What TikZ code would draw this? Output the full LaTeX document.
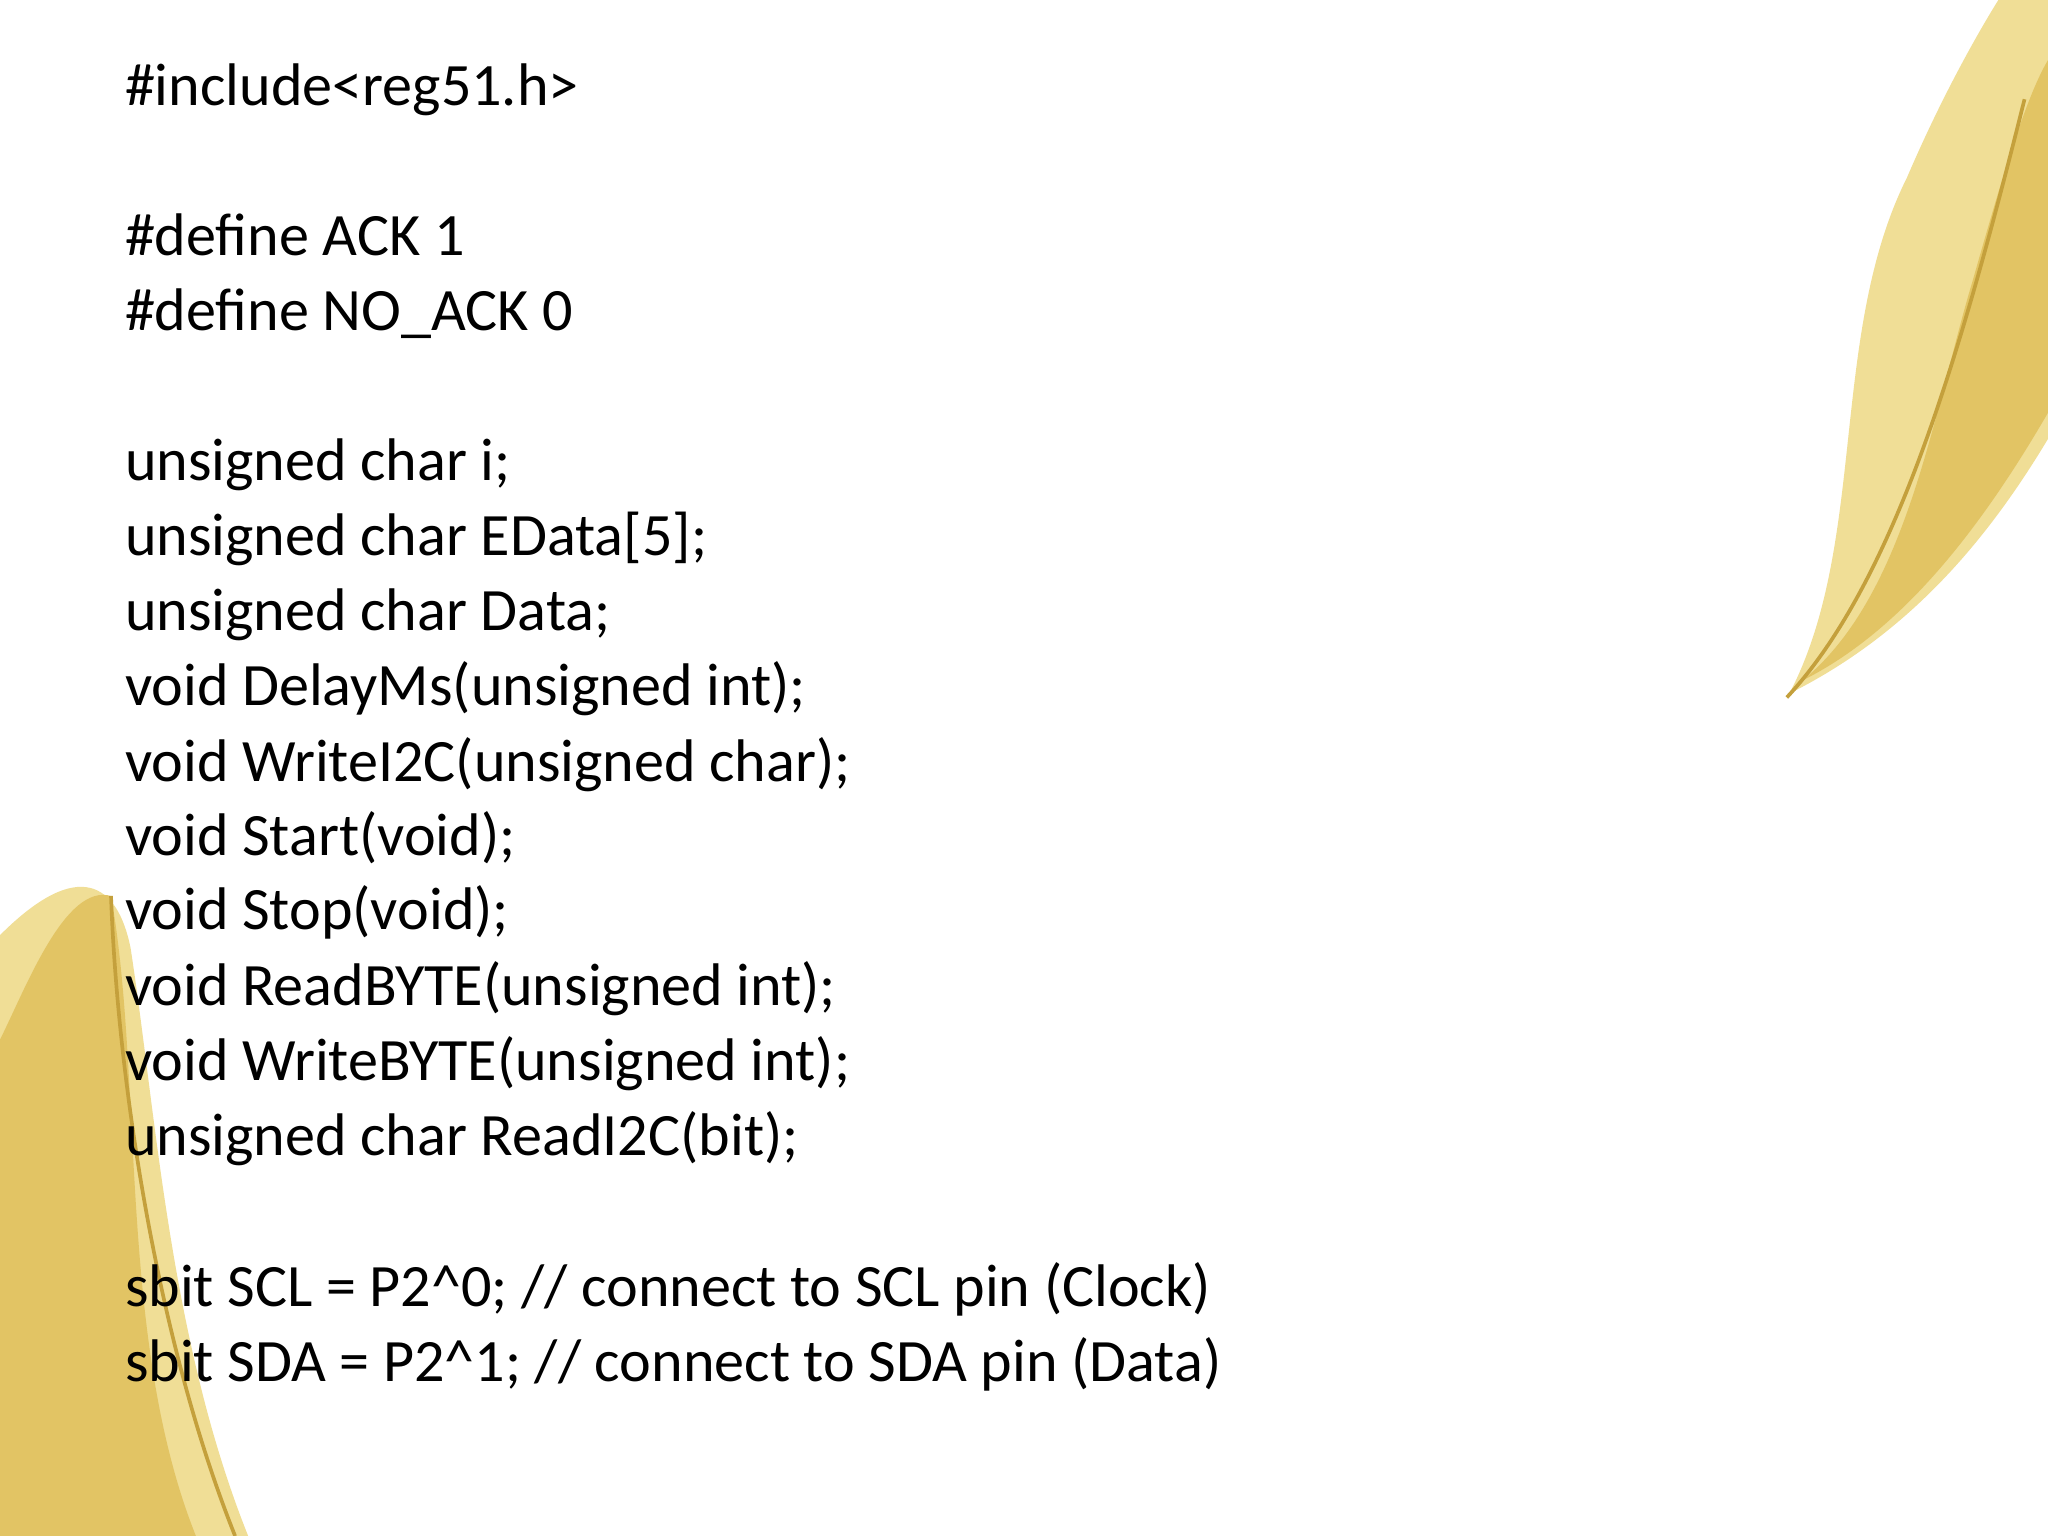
\documentclass[tikz,border=0pt]{standalone}
\usepackage{fontspec}
\setmainfont{Carlito}
\begin{document}
\begin{tikzpicture}[x=1cm,y=1cm,
  code/.style={anchor=base west,inner sep=0pt,font=\fontsize{13.1pt}{15pt}\selectfont},
  feather/.style={fill=gold,draw=none}]
\definecolor{gold}{RGB}{226,196,100}
\definecolor{goldlt}{RGB}{240,222,150}
\definecolor{golddk}{RGB}{196,160,60}
\useasboundingbox (0,0) rectangle (15.68,11.76);
\fill[white] (0,0) rectangle (15.68,11.76);
% right feather
\fill[goldlt] (13.70,6.45) .. controls (14.3,7.6) and (14.0,9.2) .. (14.6,10.4)
  .. controls (14.9,11.1) and (15.2,11.6) .. (15.3,11.76)
  -- (15.68,11.76) -- (15.68,8.4)
  .. controls (15.2,7.6) and (14.6,6.9) .. (13.70,6.45) -- cycle;
\fill[gold] (13.80,6.55) .. controls (14.6,7.2) and (14.8,8.6) .. (15.1,9.6)
  .. controls (15.3,10.3) and (15.5,11.0) .. (15.68,11.3) -- (15.68,8.6)
  .. controls (15.1,7.6) and (14.5,6.9) .. (13.80,6.55) -- cycle;
\draw[golddk,line width=0.8pt] (13.68,6.42) .. controls (14.5,7.3) and (15.0,9.0) .. (15.5,11.0);
% left feather
\fill[goldlt] (1.9,0) .. controls (1.3,1.5) and (1.2,3.2) .. (1.0,4.5)
  .. controls (0.9,5.0) and (0.6,5.2) .. (0,4.6) -- (0,0) -- cycle;
\fill[gold] (1.5,0) .. controls (0.9,1.5) and (1.1,3.5) .. (0.85,4.9)
  .. controls (0.5,5.0) and (0.2,4.2) .. (0,3.8) -- (0,0) -- cycle;
\draw[golddk,line width=0.8pt] (1.8,0) .. controls (1.2,1.5) and (0.9,3.5) .. (0.85,4.9);
% code
\foreach \t/\y [count=\i] in {
 {\#include<reg51.h>}/67,
 {\#define ACK 1}/182,
 {\#define NO\_ACK 0}/239,
 {unsigned char i;}/354,
 {unsigned char EData[5];}/411,
 {unsigned char Data;}/469,
 {void DelayMs(unsigned int);}/526,
 {void WriteI2C(unsigned char);}/584,
 {void Start(void);}/641,
 {void Stop(void);}/698,
 {void ReadBYTE(unsigned int);}/756,
 {void WriteBYTE(unsigned int);}/813,
 {unsigned char ReadI2C(bit);}/871,
 {sbit SCL = P2\textasciicircum 0; // connect to SCL pin (Clock)}/986,
 {sbit SDA = P2\textasciicircum 1; // connect to SDA pin (Data)}/1044}
 \node[code] (l\i) at (0.95,{11.76-(\y+14)/100}) {\t};
\end{tikzpicture}
\end{document}
